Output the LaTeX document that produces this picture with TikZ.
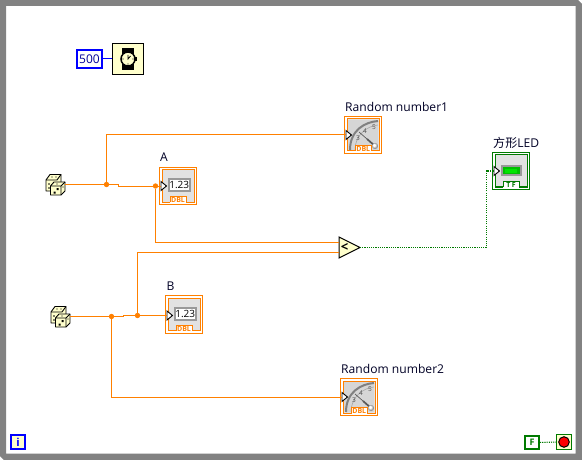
\documentclass[tikz,border=0pt]{standalone}
\usepackage{fontspec}
\setmainfont{Open Sans}
\newfontfamily\cjk{Noto Sans CJK SC}
\definecolor{lvorange}{HTML}{FF8000}
\definecolor{lvgreen}{HTML}{007A00}
\definecolor{lvblue}{HTML}{0000FF}
\definecolor{lvpale}{HTML}{FFFFCC}
\definecolor{lvgray}{HTML}{828282}
\definecolor{lvpanel}{HTML}{E2E2E2}
\tikzset{
  dblwire/.style={draw=lvorange,line width=1pt},
  boolwire/.style={draw=lvgreen,line width=1.1pt,dash pattern=on 1.1pt off 1.1pt},
  intwire/.style={draw=lvblue,line width=1pt},
  junc/.style={circle,fill=lvorange,inner sep=0pt,minimum size=5.4pt},
  termbox/.style={rectangle,draw=#1,line width=1pt,fill=white,minimum size=37.5pt,inner sep=0pt},
  consttext/.style={inner sep=0pt,font=\fontsize{12}{13}\selectfont},
  caption/.style={inner sep=0pt,anchor=west,font=\fontsize{12.1}{13}\selectfont,text=black!85!blue},
  tabtext/.style={inner sep=0pt,font=\fontsize{7}{7}\selectfont\bfseries,text=#1},
  terminal/.style={draw=black,fill=white,line width=.9pt,line join=miter},
}
\newcommand{\lvshell}[5]{%
  \node[termbox=#4] (#1) at (#2,#3) {};
  \begin{scope}[shift={(#2,#3)}]
    \fill[lvpanel] (-16,-16) rectangle (16,16);
    \draw[#4,line width=1pt] (-16,-16) rectangle (16,16);
  \end{scope}}
\newcommand{\lvtab}[6]{%
  \begin{scope}[shift={(#1,#2)}]
    \fill[white] (#5,10.5) rectangle (#6,18);
    \draw[#3,line width=1pt] (#5,16) -- (#5,10.5) -- (#6,10.5) -- (#6,16);
    \node[tabtext=#3] at ({(#5+#6)/2},14.2) {#4};
  \end{scope}}
\newcommand{\lvterm}[3]{%
  \coordinate (#1) at (#2,#3);
  \draw[terminal] (#2,#3-4.5) -- (#2+5.5,#3) -- (#2,#3+4.5) -- cycle;}
\newcommand{\lvnum}[4]{%
  \lvshell{#1}{#2}{#3}{lvorange}{}
  \begin{scope}[shift={(#2,#3)}]
    \draw[black!40,line width=2pt,fill=white] (-9,-7) rectangle (11.5,5);
    \node[inner sep=0pt,font=\fontsize{10}{10}\selectfont] at (1.2,-1) {1.23};
  \end{scope}
  \lvtab{#2}{#3}{lvorange}{DBL}{-8}{8}
  \lvterm{#1in}{#2-17}{#3+#4}}
\newcommand{\lvmeter}[3]{%
  \lvshell{#1}{#2}{#3}{lvorange}{}
  \begin{scope}[shift={(#2,#3)}]
    \fill[black!16] (-15,-15) rectangle (15,15);
    \draw[black!50,line width=2pt] (-13,15) .. controls (-13,-5) and (2,-13) .. (15,-14);
    \draw[black!35,line width=.6pt] (-8,15) .. controls (-8,0) and (4,-9) .. (15,-10);
    \draw[black!65,line width=.7pt] (-4,-3) -- (4,4);
    \draw[black!65,line width=1.7pt] (4,4) -- (12,11);
    \shade[ball color=white] (12,11) circle (3);
    \node[inner sep=0pt,text=black!70,font=\fontsize{6.5}{6.5}\selectfont] at (-5,3) {3};
    \node[inner sep=0pt,text=black!70,font=\fontsize{6.5}{6.5}\selectfont] at (2,-4) {4};
    \node[inner sep=0pt,text=black!70,font=\fontsize{6.5}{6.5}\selectfont] at (11,-8) {5};
  \end{scope}
  \lvtab{#2}{#3}{lvorange}{DBL}{-7.5}{8}
  \lvterm{#1in}{#2-17}{#3}}
\newcommand{\lvdice}[3]{%
  \node[inner sep=0pt,minimum width=19pt,minimum height=21pt] (#1) at (#2+9.5,#3+10.5) {};
  \begin{scope}[shift={(#2,#3)},line width=.9pt,line join=round]
    \filldraw[draw=black,fill=lvpale] (0,6) -- (4,.5) -- (15,.5) -- (15,9) -- (10,17) -- (0,17) -- cycle;
    \draw[black] (0,6) -- (11,6) -- (15,.5);
    \fill[black] (6,3) circle (.7) (10,3) circle (.7) (3,10) circle (.8) (3,14) circle (.8);
    \filldraw[draw=black,fill=lvpale] (4.5,12) -- (8,8) -- (19,8) -- (19,17) -- (15,21) -- (4.5,21) -- cycle;
    \draw[black] (4.5,12) -- (15,12) -- (19,8) (15,12) -- (15,21);
    \fill[black] (7.5,17.5) rectangle (9.5,19.5) (10.5,14) rectangle (12.5,16);
    \fill[black] (11,10) circle (.6);
    \fill[black] (17,13) circle (.6);
  \end{scope}}
\begin{document}
\begin{tikzpicture}[x=1pt,y=-1pt]
\useasboundingbox (0,0) rectangle (582,460);
\fill[white] (0,0) rectangle (582,460);
\fill[lvgray,even odd rule] (0,0) -- (578,0) -- (582,4) -- (582,460) -- (4,460) -- (0,456) -- cycle
   (6,6) rectangle (575.5,453.5);

\node[draw=lvblue,line width=2pt,fill=white,minimum width=25pt,minimum height=18pt,inner sep=0pt,consttext,text=black!40!blue] (k500) at (89.5,59) {500};
\node[draw=black,line width=1pt,fill=lvpale,minimum size=31.5pt,inner sep=0pt] (wait) at (128,59) {};
\draw[intwire] (k500) -- (wait);
\fill[black] (122,48) rectangle (134,70);
\fill[black] (135,57.5) rectangle (137,61);
\draw[black,line width=1.5pt,fill=lvpale] (128,59) circle (7);
\draw[black,line width=.8pt] (128,55) -- (128,59) -- (130.5,56);
\fill[black] (128,64) circle (.6) (123,59) circle (.6) (133,59) circle (.6);

\lvdice{dicea}{46}{174}
\lvdice{diceb}{51}{306}
\lvnum{A}{178}{186}{0}
\lvnum{B}{184}{314.5}{1}
\lvmeter{rone}{363}{135}
\lvmeter{rtwo}{359}{397}

\lvshell{led}{511}{171}{lvgreen}{}
\begin{scope}[shift={(511,171)}]
  \draw[black!40,line width=2pt,fill=green!75!black] (-9.5,-4.5) rectangle (9.5,4);
  \fill[green!90!black] (-6,-2) rectangle (6,2);
\end{scope}
\lvtab{511}{171}{lvgreen}{T\kern1.5pt F}{-8}{8}
\lvterm{ledin}{494}{171}

\coordinate (cmpa) at (339,242);
\coordinate (cmpb) at (339,252);
\coordinate (cmpout) at (360,247.5);
\draw[black,line width=1pt,fill=lvpale,line join=miter] (339,237) -- (cmpout) -- (339,258) -- cycle;
\node[inner sep=0pt,font=\fontsize{13}{13}\selectfont\bfseries] (cmp) at (344.5,247) {<};

\node[junc] (ja) at (106.5,184.5) {};
\node[junc] (jb) at (155.5,186) {};
\node[junc] (jc) at (111.5,316.5) {};
\node[junc] (jd) at (137.5,315.5) {};
\coordinate (daout) at (65,184.5);
\coordinate (dbout) at (70,316.5);

\draw[dblwire] (daout) -- (ja) -- ++(11.5,0) -- ++(0,1.5) -- (jb) -- (Ain);
\draw[dblwire] (ja) |- (ronein);
\draw[dblwire] (jb) |- (cmpa);
\draw[dblwire] (dbout) -- (jc) -- ++(11.5,0) -- ++(0,-1) -- (jd) -- (Bin);
\draw[dblwire] (jd) |- (cmpb);
\draw[dblwire] (jc) |- (rtwoin);
\draw[boolwire] (cmpout) -- (486.5,247.5) -- (486.5,171) -- (ledin);

\node[caption] (capr1) at (345,107) {Random number1};
\node[caption] (capr2) at (341,368.5) {Random number2};
\node[caption] (capa) at (160,157.5) {A};
\node[caption] (capb) at (166.5,286) {B};
\node[caption] (capled) at (493,142.5) {{\cjk 方形}LED};

\node[draw=lvblue,line width=2pt,fill=lvpale,minimum size=14pt,inner sep=0pt,text=lvblue,font=\fontsize{11}{11}\selectfont\bfseries] (iter) at (18,442) {i};
\node[draw=lvgreen,line width=2pt,fill=white,minimum width=14pt,minimum height=13.5pt,inner sep=0pt,text=lvgreen,font=\fontsize{9}{9}\selectfont\bfseries] (ffalse) at (532,442.5) {F};
\node[draw=lvgreen,line width=1pt,fill=lvpale,minimum size=15pt,inner sep=0pt] (stop) at (564,442) {};
\draw[black,line width=1pt,fill=red] (564,442) circle (5.3);
\draw[boolwire] (ffalse) -- (stop);
\end{tikzpicture}
\end{document}
